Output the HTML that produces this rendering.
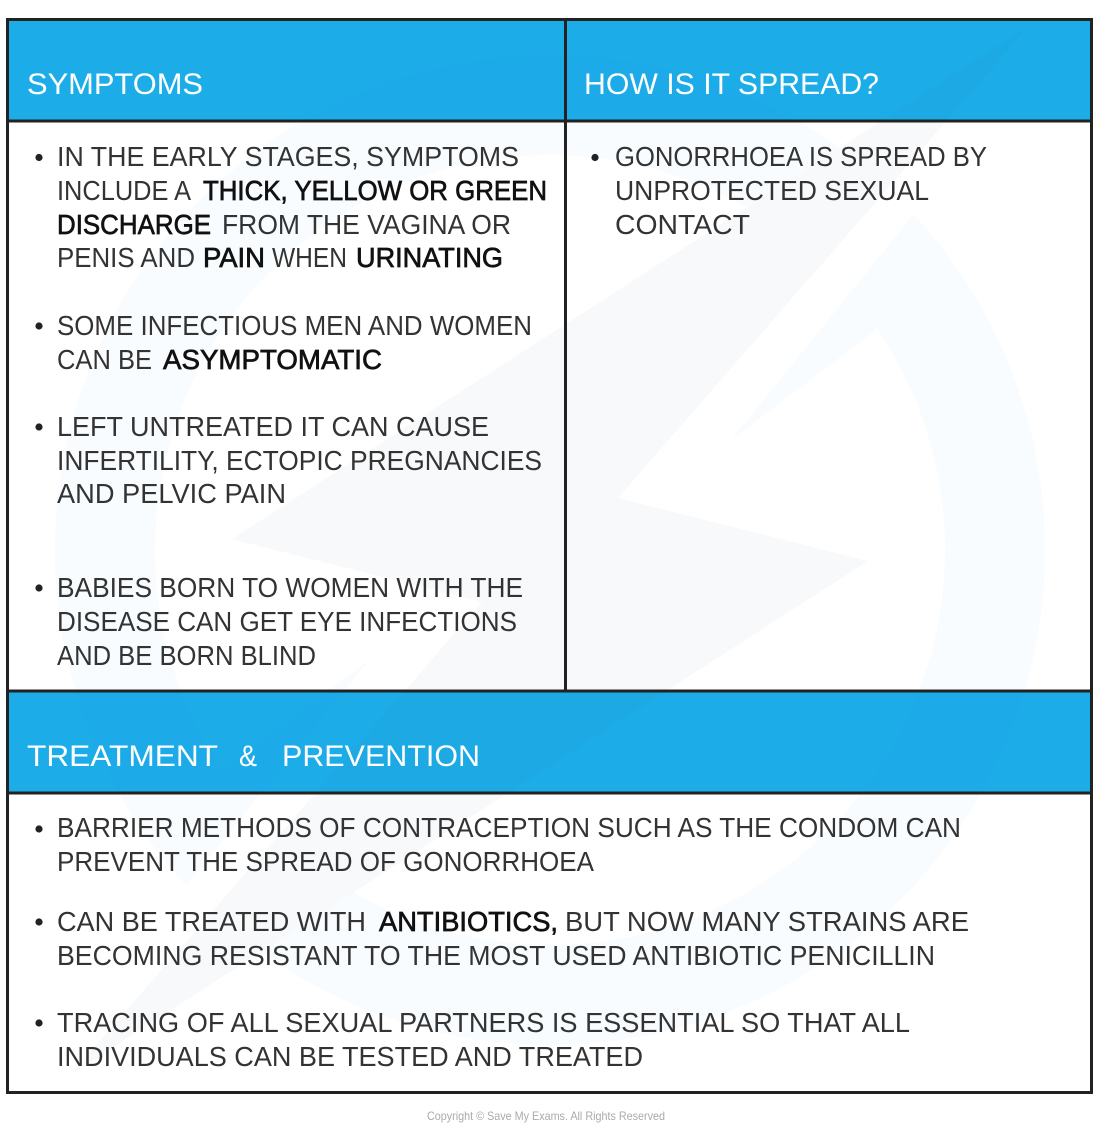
<!DOCTYPE html>
<html><head><meta charset="utf-8">
<style>
html,body{margin:0;padding:0;background:#fff}
svg{display:block}
text{font-family:"Liberation Sans",sans-serif}
.t{font-size:27.5px;fill:#333}
.b{font-size:27.5px;fill:#111;stroke:#111;stroke-width:.7px}
.h{font-size:30px;fill:#fff}
</style></head><body>
<svg xmlns="http://www.w3.org/2000/svg" width="1100" height="1138" viewBox="0 0 1100 1138">
<rect width="1100" height="1138" fill="#fff"/>
<rect x="8" y="20" width="1083" height="101" fill="#1cade9"/>
<rect x="8" y="692" width="1083" height="101" fill="#1cade9"/>
<g style="mix-blend-mode:multiply">
<circle cx="550" cy="550" r="445" fill="none" stroke="#f8fcfe" stroke-width="100"/>
<polygon points="620,496 1000,60 1100,0 1000,108 731,440" fill="#fff"/>
<polygon points="480,604 100,1040 0,1100 100,992 369,660" fill="#fff"/>
<polygon points="913,215 731,440 875,331" fill="#f8fcfe"/>
<polygon points="187,885 369,660 225,769" fill="#f8fcfe"/>
<polygon points="1030,25 232,539 482,602 70,1075 868,561 618,498" fill="#f8f9fa"/>
</g>
<g fill="none" stroke="#222" stroke-width="3">
<rect x="7.5" y="19.5" width="1084" height="1073"/>
<line x1="565.5" y1="20" x2="565.5" y2="691"/>
<line x1="8" y1="121" x2="1091" y2="121"/>
<line x1="8" y1="691" x2="1091" y2="691"/>
<line x1="8" y1="793" x2="1091" y2="793"/>
</g>
<text class="h" x="27" y="94" textLength="176" lengthAdjust="spacingAndGlyphs">SYMPTOMS</text>
<text class="h" x="584" y="94" textLength="295" lengthAdjust="spacingAndGlyphs">HOW IS IT SPREAD?</text>
<text class="h" x="27" y="766" textLength="191" lengthAdjust="spacingAndGlyphs">TREATMENT</text>
<text class="h" x="239" y="766" textLength="18" lengthAdjust="spacingAndGlyphs">&amp;</text>
<text class="h" x="282" y="766" textLength="198" lengthAdjust="spacingAndGlyphs">PREVENTION</text>

<g fill="#222">
<circle cx="39" cy="157.5" r="3.6"/><circle cx="39" cy="326" r="3.6"/><circle cx="39" cy="427" r="3.6"/><circle cx="39" cy="588" r="3.6"/>
<circle cx="595" cy="157.5" r="3.6"/>
<circle cx="39" cy="829" r="3.6"/><circle cx="39" cy="922" r="3.6"/><circle cx="39" cy="1023" r="3.6"/>
</g>

<text class="t" x="57" y="166" textLength="462" lengthAdjust="spacingAndGlyphs">IN THE EARLY STAGES, SYMPTOMS</text>
<text class="t" x="57" y="200" textLength="134" lengthAdjust="spacingAndGlyphs">INCLUDE A</text>
<text class="b" x="203" y="200" textLength="344" lengthAdjust="spacingAndGlyphs">THICK, YELLOW OR GREEN</text>
<text class="b" x="57" y="234" textLength="154" lengthAdjust="spacingAndGlyphs">DISCHARGE</text>
<text class="t" x="222" y="234" textLength="289" lengthAdjust="spacingAndGlyphs">FROM THE VAGINA OR</text>
<text class="t" x="57" y="267" textLength="138" lengthAdjust="spacingAndGlyphs">PENIS AND</text>
<text class="b" x="203" y="267" textLength="62" lengthAdjust="spacingAndGlyphs">PAIN</text>
<text class="t" x="272" y="267" textLength="75" lengthAdjust="spacingAndGlyphs">WHEN</text>
<text class="b" x="356" y="267" textLength="147" lengthAdjust="spacingAndGlyphs">URINATING</text>

<text class="t" x="57" y="335" textLength="475" lengthAdjust="spacingAndGlyphs">SOME INFECTIOUS MEN AND WOMEN</text>
<text class="t" x="57" y="369" textLength="95" lengthAdjust="spacingAndGlyphs">CAN BE</text>
<text class="b" x="163" y="369" textLength="219" lengthAdjust="spacingAndGlyphs">ASYMPTOMATIC</text>

<text class="t" x="57" y="436" textLength="432" lengthAdjust="spacingAndGlyphs">LEFT UNTREATED IT CAN CAUSE</text>
<text class="t" x="57" y="470" textLength="485" lengthAdjust="spacingAndGlyphs">INFERTILITY, ECTOPIC PREGNANCIES</text>
<text class="t" x="57" y="503" textLength="229" lengthAdjust="spacingAndGlyphs">AND PELVIC PAIN</text>

<text class="t" x="57" y="597" textLength="466" lengthAdjust="spacingAndGlyphs">BABIES BORN TO WOMEN WITH THE</text>
<text class="t" x="57" y="631" textLength="460" lengthAdjust="spacingAndGlyphs">DISEASE CAN GET EYE INFECTIONS</text>
<text class="t" x="57" y="665" textLength="259" lengthAdjust="spacingAndGlyphs">AND BE BORN BLIND</text>

<text class="t" x="615" y="166" textLength="372" lengthAdjust="spacingAndGlyphs">GONORRHOEA IS SPREAD BY</text>
<text class="t" x="615" y="200" textLength="314" lengthAdjust="spacingAndGlyphs">UNPROTECTED SEXUAL</text>
<text class="t" x="615" y="234" textLength="135" lengthAdjust="spacingAndGlyphs">CONTACT</text>

<text class="t" x="57" y="837" textLength="904" lengthAdjust="spacingAndGlyphs">BARRIER METHODS OF CONTRACEPTION SUCH AS THE CONDOM CAN</text>
<text class="t" x="57" y="871" textLength="537" lengthAdjust="spacingAndGlyphs">PREVENT THE SPREAD OF GONORRHOEA</text>
<text class="t" x="57" y="931" textLength="309" lengthAdjust="spacingAndGlyphs">CAN BE TREATED WITH</text>
<text class="b" x="379" y="931" textLength="179" lengthAdjust="spacingAndGlyphs">ANTIBIOTICS,</text>
<text class="t" x="565" y="931" textLength="404" lengthAdjust="spacingAndGlyphs">BUT NOW MANY  STRAINS ARE</text>
<text class="t" x="57" y="965" textLength="878" lengthAdjust="spacingAndGlyphs">BECOMING RESISTANT TO THE MOST USED ANTIBIOTIC PENICILLIN</text>
<text class="t" x="57" y="1032" textLength="853" lengthAdjust="spacingAndGlyphs">TRACING OF ALL SEXUAL PARTNERS IS ESSENTIAL SO THAT ALL</text>
<text class="t" x="57" y="1066" textLength="586" lengthAdjust="spacingAndGlyphs">INDIVIDUALS CAN BE TESTED AND TREATED</text>

<text x="427" y="1120" font-size="12" fill="#aaa" textLength="238" lengthAdjust="spacingAndGlyphs">Copyright © Save My Exams. All Rights Reserved</text>
</svg>
</body></html>
